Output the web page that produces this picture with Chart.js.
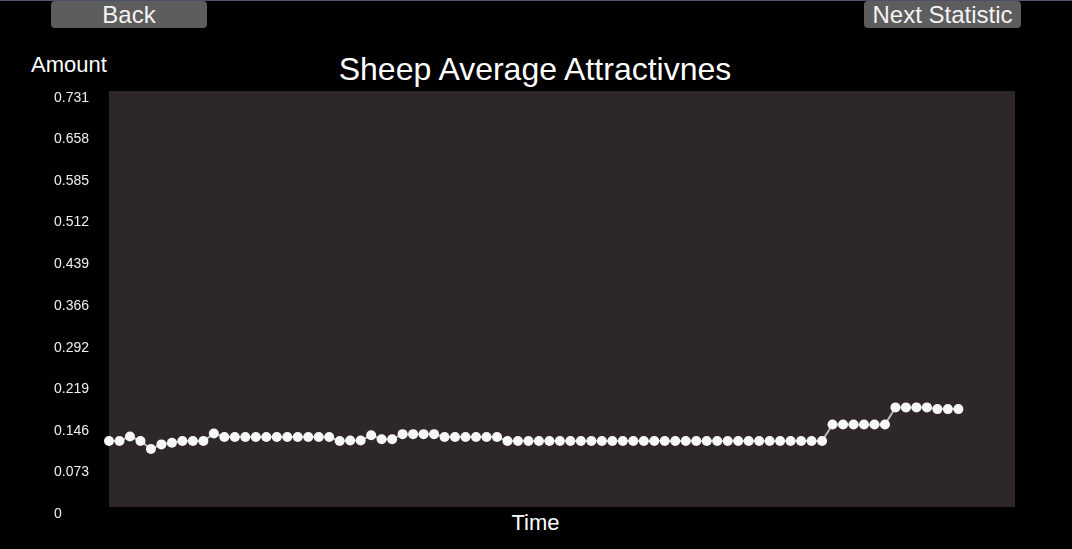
<!DOCTYPE html>
<html>
<head>
<meta charset="utf-8">
<script src="https://cdn.jsdelivr.net/npm/chart.js@4.4.1/dist/chart.umd.min.js"></script>
<style>
  html, body { margin: 0; padding: 0; background: #000; overflow: hidden; }
  body { width: 1072px; height: 549px; position: relative; font-family: "Liberation Sans", Arial, sans-serif; color: #fff; }
  .topline { position: absolute; left: 0; top: 0; width: 1072px; height: 1px; background: #4d5268; }
  .btn { position: absolute; top: 1px; height: 27px; background: #5e5d5e; border-radius: 4px;
         font-size: 24px; line-height: 28px; text-align: center; color: #f4f4f4; }
  .txt { position: absolute; white-space: nowrap; color: #fff; }
  #wrap { position: absolute; left: 0; top: 0; width: 1072px; height: 549px; }
</style>
</head>
<body>
<div class="topline"></div>
<div class="btn" style="left:51px; width:156px;">Back</div>
<div class="btn" style="left:864px; width:157px;">Next Statistic</div>
<div class="txt" style="left:0; width:1070px; top:51px; text-align:center; font-size:32px;">Sheep Average Attractivnes</div>
<div class="txt" style="left:31px; top:52px; font-size:22px;">Amount</div>
<div class="txt" style="left:0; width:1071px; top:510px; text-align:center; font-size:22px;">Time</div>
<div id="wrap"><canvas id="lineChart" width="1072" height="549"></canvas></div>
<script>
const ctx = document.getElementById('lineChart').getContext('2d');

// average attractiveness per sample
const attractiveness = [
  0.116, 0.116, 0.124, 0.116, 0.102, 0.110, 0.113, 0.116, 0.116, 0.116,
  0.129, 0.123, 0.123, 0.123, 0.123, 0.123, 0.123, 0.123, 0.123, 0.123,
  0.123, 0.123, 0.116, 0.117, 0.117, 0.126, 0.119, 0.119, 0.128, 0.128,
  0.128, 0.128, 0.123, 0.123, 0.123, 0.123, 0.123, 0.123, 0.116, 0.116,
  0.116, 0.116, 0.116, 0.116, 0.116, 0.116, 0.116, 0.116, 0.116, 0.116,
  0.116, 0.116, 0.116, 0.116, 0.116, 0.116, 0.116, 0.116, 0.116, 0.116,
  0.116, 0.116, 0.116, 0.116, 0.116, 0.116, 0.116, 0.116, 0.116, 0.145,
  0.145, 0.145, 0.145, 0.145, 0.145, 0.175, 0.175, 0.175, 0.175, 0.172,
  0.172, 0.172
];
const yTicks = [0, 0.073, 0.146, 0.219, 0.292, 0.366, 0.439, 0.512, 0.585, 0.658, 0.731];
const yLabels = ['0', '0.073', '0.146', '0.219', '0.292', '0.366', '0.439', '0.512', '0.585', '0.658', '0.731'];
const timeMax = 86.4;

const points = attractiveness.map((v, i) => ({ x: i, y: v }));

// dark plot background
const plotBg = {
  id: 'plotBg',
  beforeDraw(chart) {
    const a = chart.chartArea;
    const c = chart.ctx;
    c.save();
    c.fillStyle = '#2e2728';
    c.fillRect(a.left, a.top, a.right - a.left, a.bottom - a.top);
    c.restore();
  }
};

new Chart(ctx, {
  type: 'line',
  data: {
    datasets: [{
      data: points,
      borderColor: '#b8b8b8',
      borderWidth: 2,
      pointRadius: 5,
      pointBorderWidth: 0,
      pointBackgroundColor: '#f7f7f7',
      tension: 0,
      clip: false
    }]
  },
  options: {
    responsive: false,
    animation: false,
    layout: { padding: { left: 54, right: 57, top: 91, bottom: 42 } },
    plugins: { legend: { display: false }, tooltip: { enabled: false } },
    scales: {
      x: { type: 'linear', min: 0, max: timeMax, display: false },
      y: {
        min: 0,
        max: 0.731,
        grid: { display: false },
        border: { display: false },
        afterBuildTicks: s => { s.ticks = yTicks.map(v => ({ value: v })); },
        afterFit: s => { s.width = 55; },
        ticks: {
          callback: (v, i) => yLabels[i],
          crossAlign: 'far',
          padding: 20,
          labelOffset: 7,
          color: '#f0f0f0',
          font: { family: 'Liberation Sans', size: 14 }
        }
      }
    }
  },
  plugins: [plotBg]
});
</script>
</body>
</html>
